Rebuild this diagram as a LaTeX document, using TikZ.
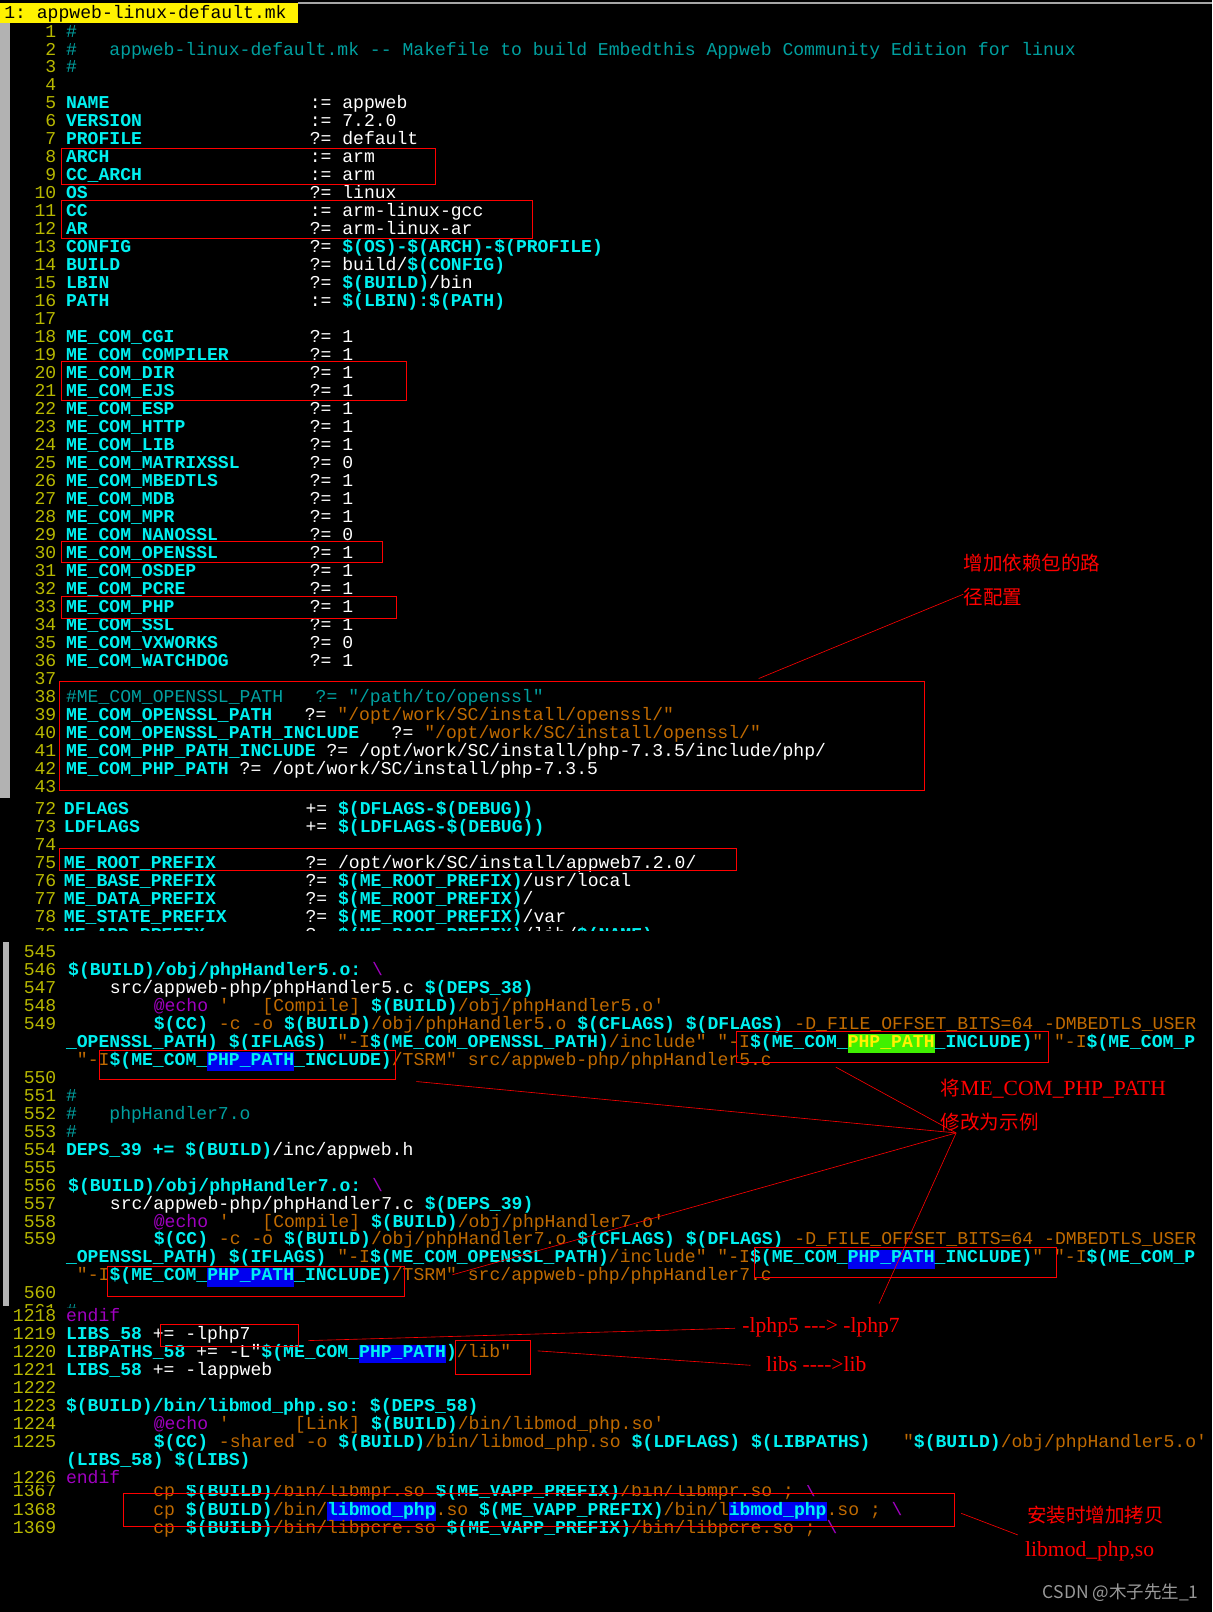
\documentclass[tikz,border=0pt]{standalone}
\usepackage{fontspec}
\setmonofont{Liberation Mono}
\newfontfamily\anno{Liberation Serif}
\newfontfamily\cjk{Noto Sans CJK SC}
\definecolor{lnum}{HTML}{B8B800}
\definecolor{cyn}{HTML}{00F0F0}
\definecolor{org}{HTML}{C06A00}
\definecolor{tea}{HTML}{00A0A0}
\definecolor{pur}{HTML}{A000C0}
\definecolor{hlb}{HTML}{0000F0}
\definecolor{hlg}{HTML}{40F000}
\newcommand\cy[1]{\textcolor{cyn}{\bfseries #1}}
\newcommand\wh[1]{\textcolor{white}{#1}}
\newcommand\og[1]{\textcolor{org}{#1}}
\newcommand\tl[1]{\textcolor{tea}{#1}}
\newcommand\pu[1]{\textcolor{pur}{#1}}
\newcommand\hb[1]{{\setlength\fboxsep{0pt}\colorbox{hlb}{\strut\textcolor{cyn}{\bfseries #1}}}}
\newcommand\hg[1]{{\setlength\fboxsep{0pt}\colorbox{hlg}{\strut\textcolor{yellow}{\bfseries #1}}}}
\newcommand\bs{\textbackslash}
\newcommand\ttt{\fontsize{17.6}{18}\ttfamily}
% text placement
\newcommand\A[3]{\node[txt] at ({64+10.68*#1},{36+17.5*(#2-1)}) {#3};}
\newcommand\B[3]{\node[txt] at ({64+10.68*#1},{931+17.5*(#2)}) {#3};}
\newcommand\C[3]{\node[txt] at ({64+10.68*#1},{1303+17.5*(#2)}) {#3};}
\newcommand\NA[2]{\node[num] at (55,{36+17.5*(#1-1)}) {#2};}
\newcommand\NB[2]{\node[num] at (55,{931+17.5*(#1)}) {#2};}
\newcommand\NC[2]{\node[num] at (55,{1303+17.5*(#1)}) {#2};}
\tikzset{
 txt/.style={anchor=base west,inner sep=0pt,font=\ttt,text=white},
 num/.style={anchor=base east,inner sep=0pt,font=\ttt,text=lnum},
 rbox/.style={draw=red,line width=0.8pt},
 rline/.style={draw=red,line width=0.6pt},
 note/.style={anchor=base west,inner sep=0pt,text=red,font=\fontsize{19}{20}\selectfont}
}
\begin{document}
\begin{tikzpicture}[x=1pt,y=-1pt]
\fill[black] (0,0) rectangle (1179,1568);
\useasboundingbox (0,0) rectangle (1179,1568);
% header
\fill[yellow] (0,3) rectangle (290,22);
\node[anchor=base west,inner sep=0pt,font=\ttt] (hdr) at (4,18) {1: appweb-linux-default.mk};
\draw[gray!70,line width=1.2pt] (290,3) -- (1179,3);
\fill[gray!60] (0,22) rectangle (10,776);
\fill[gray!60] (3,916) rectangle (9,1270);
% ---------- section 1
\foreach \k in {1,...,43}{\NA{\k}{\k}}
\A{0}{1}{\tl{\#}}
\A{0}{2}{\tl{\#\ \ \ appweb-linux-default.mk -{}- Makefile to build Embedthis Appweb Community Edition for linux}}
\A{0}{3}{\tl{\#}}
\foreach \k/\n/\o/\v in {5/NAME/:=/appweb,6/VERSION/:=/7.2.0,7/PROFILE/?=/default,8/ARCH/:=/arm,9/CC\_ARCH/:=/arm,10/OS/?=/linux,11/CC/:=/arm-linux-gcc,12/AR/?=/arm-linux-ar}{\A{0}{\k}{\cy{\n}}\A{22.2}{\k}{\o\ \v}}
\A{0}{13}{\cy{CONFIG}}\A{22.2}{13}{?= \cy{\$(OS)-\$(ARCH)-\$(PROFILE)}}
\A{0}{14}{\cy{BUILD}}\A{22.2}{14}{?= build/\cy{\$(CONFIG)}}
\A{0}{15}{\cy{LBIN}}\A{22.2}{15}{?= \cy{\$(BUILD)}/bin}
\A{0}{16}{\cy{PATH}}\A{22.2}{16}{:= \cy{\$(LBIN):\$(PATH)}}
\foreach \k/\n/\v in {18/CGI/1,19/COMPILER/1,20/DIR/1,21/EJS/1,22/ESP/1,23/HTTP/1,24/LIB/1,25/MATRIXSSL/0,26/MBEDTLS/1,27/MDB/1,28/MPR/1,29/NANOSSL/0,30/OPENSSL/1,31/OSDEP/1,32/PCRE/1,33/PHP/1,34/SSL/1,35/VXWORKS/0,36/WATCHDOG/1}{\A{0}{\k}{\cy{ME\_COM\_\n}}\A{22.2}{\k}{?= \v}}
\A{0}{38}{\tl{\#ME\_COM\_OPENSSL\_PATH\ \ \ ?= "/path/to/openssl"}}
\A{0}{39}{\cy{ME\_COM\_OPENSSL\_PATH}\ \ \ ?= \og{"/opt/work/SC/install/openssl/"}}
\A{0}{40}{\cy{ME\_COM\_OPENSSL\_PATH\_INCLUDE}\ \ \ ?= \og{"/opt/work/SC/install/openssl/"}}
\A{0}{41}{\cy{ME\_COM\_PHP\_PATH\_INCLUDE} ?= /opt/work/SC/install/php-7.3.5/include/php/}
\A{0}{42}{\cy{ME\_COM\_PHP\_PATH} ?= /opt/work/SC/install/php-7.3.5}
% lines 72-79
\begin{scope}
\clip (0,777) rectangle (1179,905);
\foreach \k/\r in {72/0,73/1,74/2,75/3,76/4,77/5,78/6,79/7}{\node[num] at (55,{792+17.5*\r}) {\k};}
\node[txt] at (62,792) {\cy{DFLAGS}}; \node[txt] at (297,792) {+= \cy{\$(DFLAGS-\$(DEBUG))}};
\node[txt] at (62,809.5) {\cy{LDFLAGS}}; \node[txt] at (297,809.5) {+= \cy{\$(LDFLAGS-\$(DEBUG))}};
\node[txt] at (62,844.5) {\cy{ME\_ROOT\_PREFIX}}; \node[txt] at (297,844.5) {?= /opt/work/SC/install/appweb7.2.0/};
\node[txt] at (62,862) {\cy{ME\_BASE\_PREFIX}}; \node[txt] at (297,862) {?= \cy{\$(ME\_ROOT\_PREFIX)}/usr/local};
\node[txt] at (62,879.5) {\cy{ME\_DATA\_PREFIX}}; \node[txt] at (297,879.5) {?= \cy{\$(ME\_ROOT\_PREFIX)}/};
\node[txt] at (62,897) {\cy{ME\_STATE\_PREFIX}}; \node[txt] at (297,897) {?= \cy{\$(ME\_ROOT\_PREFIX)}/var};
\node[txt] at (62,914.5) {\cy{ME\_APP\_PREFIX}}; \node[txt] at (297,914.5) {?= \cy{\$(ME\_BASE\_PREFIX)}/lib/\cy{\$(NAME)}};
\end{scope}
% ---------- section 2
\begin{scope}
\clip (0,912) rectangle (1179,1272);
\NB{0}{545}\NB{1}{546}\NB{2}{547}\NB{3}{548}\NB{4}{549}\NB{7}{550}\NB{8}{551}\NB{9}{552}\NB{10}{553}\NB{11}{554}\NB{12}{555}\NB{13}{556}\NB{14}{557}\NB{15}{558}\NB{16}{559}\NB{19}{560}
\foreach \h/\r/\d in {5/1/38,7/13/39}{
\B{0.2}{\r}{\cy{\$(BUILD)/obj/phpHandler\h.o:} \pu{\bs}}
\B{4}{\r+1}{src/appweb-php/phpHandler\h.c \cy{\$(DEPS\_\d)}}
\B{8}{\r+2}{\pu{@echo}\og{\ '\ \ \ [Compile]\ }\cy{\$(BUILD)}\og{/obj/phpHandler\h.o'}}
\B{8}{\r+3}{\cy{\$(CC)}\og{\ -c -o\ }\cy{\$(BUILD)}\og{/obj/phpHandler\h.o\ }\cy{\$(CFLAGS) \$(DFLAGS)}\og{\ -D\_FILE\_OFFSET\_BITS=64 -DMBEDTLS\_USER}}
\B{1}{\r+5}{\og{"-I}\cy{\$(ME\_COM\_}\hb{PHP\_PATH}\cy{\_INCLUDE)}\og{/TSRM" src/appweb-php/phpHandler\h.c}}
}
\B{0}{5}{\cy{\_OPENSSL\_PATH) \$(IFLAGS)}\og{\ "-I}\cy{\$(ME\_COM\_OPENSSL\_PATH)}\og{/include" "-I}\cy{\$(ME\_COM\_}\hg{PHP\_PATH}\cy{\_INCLUDE)}\og{" "-I}\cy{\$(ME\_COM\_P}}
\B{0}{17}{\cy{\_OPENSSL\_PATH) \$(IFLAGS)}\og{\ "-I}\cy{\$(ME\_COM\_OPENSSL\_PATH)}\og{/include" "-I}\cy{\$(ME\_COM\_}\hb{PHP\_PATH}\cy{\_INCLUDE)}\og{" "-I}\cy{\$(ME\_COM\_P}}
\B{0}{8}{\tl{\#}}
\B{0}{9}{\tl{\#\ \ \ phpHandler7.o}}
\B{0}{10}{\tl{\#}}
\B{0}{11}{\cy{DEPS\_39 += \$(BUILD)}/inc/appweb.h}
\NB{20}{561}\B{0}{20}{\tl{\#}}
\end{scope}
% ---------- section 3
\begin{scope}
\clip (0,1272) rectangle (1179,1445);
\NC{-1}{1218}\C{0}{-1}{\pu{endif}}
\NC{0}{1219}\NC{1}{1220}\NC{2}{1221}\NC{3}{1222}\NC{4}{1223}\NC{5}{1224}\NC{6}{1225}\NC{8}{1226}
\C{0}{0}{\cy{LIBS\_58} += -lphp7}
\C{0}{1}{\cy{LIBPATHS\_58} += -L"\cy{\$(ME\_COM\_}\hb{PHP\_PATH}\cy{)}\og{/lib"}}
\C{0}{2}{\cy{LIBS\_58} += -lappweb}
\C{0}{4}{\cy{\$(BUILD)/bin/libmod\_php.so: \$(DEPS\_58)}}
\C{8}{5}{\pu{@echo}\og{\ '\ \ \ \ \ \ [Link]\ }\cy{\$(BUILD)}\og{/bin/libmod\_php.so'}}
\C{8}{6}{\cy{\$(CC)}\og{\ -shared -o\ }\cy{\$(BUILD)}\og{/bin/libmod\_php.so\ }\cy{\$(LDFLAGS) \$(LIBPATHS)}\og{\ \ \ "}\cy{\$(BUILD)}\og{/obj/phpHandler5.o'}}
\C{0}{7}{\cy{(LIBS\_58) \$(LIBS)}}
\C{0}{8}{\pu{endif}}
\end{scope}
\begin{scope}
\clip (0,1445) rectangle (1179,1495);
\node[num] at (55,1456) {1367};\node[num] at (55,1474) {1368};\node[num] at (55,1492) {1369};
\node[txt] at (149,1456) {\og{cp\ }\cy{\$(BUILD)}\og{/bin/libmpr.so\ }\cy{\$(ME\_VAPP\_PREFIX)}\og{/bin/libmpr.so ;\ }\pu{\bs}};
\node[txt] at (149,1474) {\og{cp\ }\cy{\$(BUILD)}\og{/bin/}\hb{libmod\_php}\og{.so\ }\cy{\$(ME\_VAPP\_PREFIX)}\og{/bin/l}\hb{ibmod\_php}\og{.so ;\ }\pu{\bs}};
\node[txt] at (149,1492) {\og{cp\ }\cy{\$(BUILD)}\og{/bin/libpcre.so\ }\cy{\$(ME\_VAPP\_PREFIX)}\og{/bin/libpcre.so ;\ }\pu{\bs}};
\end{scope}
% ---------- red boxes
\draw[rbox] (60,144) rectangle (424,179);
\draw[rbox] (60,195) rectangle (518,232);
\draw[rbox] (60,352) rectangle (395,389);
\draw[rbox] (60,527) rectangle (372,547);
\draw[rbox] (60,580) rectangle (386,602);
\draw[rbox] (58,663) rectangle (899,769);
\draw[rbox] (58,825) rectangle (716,847);
\draw[rbox] (716,1003) rectangle (1020,1033);
\draw[rbox] (97,1022) rectangle (385,1050);
\draw[rbox] (734,1213) rectangle (1028,1243);
\draw[rbox] (104,1232) rectangle (393,1261);
\draw[rbox] (156,1288) rectangle (290,1310);
\draw[rbox] (443,1304) rectangle (516,1337);
\draw[rbox] (120,1453) rectangle (928,1485);
% ---------- annotations
\node[note,font=\cjk\fontsize{19}{20}\selectfont] (n1) at (937,555) {增加依赖包的路};
\node[note,font=\cjk\fontsize{19}{20}\selectfont] (n2) at (937,588) {径配置};
\draw[rline] (738,660) -- (937,578);
\node[note] (n3) at (915,1066) {{\cjk\fontsize{19}{20}\selectfont 将}{\anno\fontsize{21}{22}\selectfont ME\_COM\_PHP\_PATH}};
\node[note,font=\cjk\fontsize{19}{20}\selectfont] (n4) at (915,1099) {修改为示例};
\coordinate (hub) at (930,1102);
\draw[rline] (813,1038) -- (hub);
\draw[rline] (405,1052) -- (hub);
\draw[rline] (440,1240) -- (hub);
\draw[rline] (855,1268) -- (hub);
\node[note] (n5) at (722,1296) {\anno\fontsize{21}{22}\selectfont -lphp5 -{}-{}-> -lphp7};
\draw[rline] (300,1304) -- (715,1292);
\node[note] (n6) at (745,1334) {\anno\fontsize{21}{22}\selectfont libs -{}-{}-{}->lib};
\draw[rline] (523,1314) -- (730,1328);
\node[note,font=\cjk\fontsize{19}{20}\selectfont] (n7) at (999,1481) {安装时增加拷贝};
\node[note] (n8) at (997,1514) {\anno\fontsize{21}{22}\selectfont libmod\_php,so};
\draw[rline] (935,1472) -- (990,1493);
\node[anchor=base east,inner sep=0pt,text=gray!80,font=\cjk\fontsize{17}{18}\selectfont] (wm) at (1166,1555) {CSDN @木子先生\_1};
\end{tikzpicture}
\end{document}
